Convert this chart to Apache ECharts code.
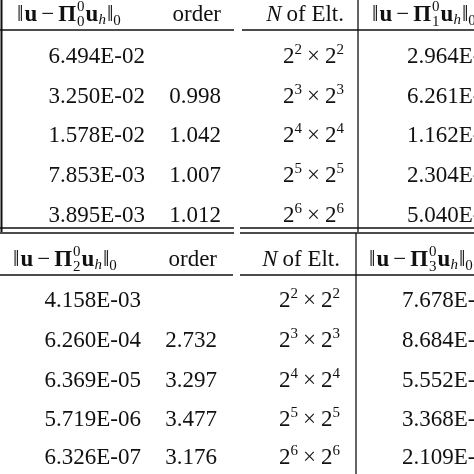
<!DOCTYPE html>
<html><head><meta charset="utf-8">
<script src="https://cdn.jsdelivr.net/npm/echarts@6/dist/echarts.min.js"></script>
<style>html,body{margin:0;padding:0;background:#fff}#c{width:474px;height:474px}</style>
</head><body><div id="c"></div>
<script>
// ---- data ----
const errTop   = ['6.494E-02','3.250E-02','1.578E-02','7.853E-03','3.895E-03'];
const orderTop = ['', '0.998','1.042','1.007','1.012'];
const col4Top  = ['2.964E-03','6.261E-04','1.162E-04','2.304E-05','5.040E-06'];
const errBot   = ['4.158E-03','6.260E-04','6.369E-05','5.719E-06','6.326E-07'];
const orderBot = ['', '2.732','3.297','3.477','3.176'];
const col4Bot  = ['7.678E-04','8.684E-05','5.552E-06','3.368E-07','2.109E-08'];
const meshExp  = [2,3,4,5,6];
const headIdxTop = ['0','1'];
const headIdxBot = ['2','3'];

const FAM = '"Liberation Serif", "DejaVu Serif", serif';
const FS = 23, SS = 15;
const cv = document.createElement('canvas').getContext('2d');
function w(t, size, weight, style){ cv.font = (style||'normal')+' '+(weight||'normal')+' '+size+'px '+FAM; return cv.measureText(t).width; }
const els = [];
function txt(t, x, y, o){ o=o||{};
  els.push({type:'text', x:x, y:y, style:{text:t, fill:'#111', font:(o.style||'normal')+' '+(o.weight||'normal')+' '+(o.size||FS)+'px '+FAM, align:o.align||'left', verticalAlign:'middle'}});
}
function seq(pieces, x, y, alignRight){
  let tot = 0; pieces.forEach(p=>{ if(p.adv!==false) tot += w(p.t,p.s||FS,p.b,p.i)+(p.gap||0); });
  let cx = alignRight ? x - tot : x;
  pieces.forEach(p=>{ txt(p.t, cx, y + (p.dy||0), {size:p.s||FS, weight:p.b, style:p.i});
    if(p.adv!==false) cx += w(p.t,p.s||FS,p.b,p.i)+(p.gap||0); });
}
function head(x, y, k){
  seq([{t:'\u2016',gap:1},{t:'u',b:'bold',gap:4},{t:'\u2212',gap:4},{t:'\u03A0',b:'bold',gap:1},
       {t:'0',s:SS,dy:-8,adv:false},{t:k,s:SS,dy:7,gap:1},{t:'u',b:'bold'},{t:'h',s:SS,i:'italic',dy:5,gap:1},
       {t:'\u2016'},{t:'0',s:SS,dy:6}], x, y, false);
}
function mesh(xr, y, e){
  seq([{t:'2'},{t:String(e),s:SS,dy:-7,gap:5},{t:'\u00D7',gap:5},{t:'2'},{t:String(e),s:SS,dy:-7}], xr, y, true);
}
function table(yh, rows, err, ord, c4, idx, xs){
  head(xs.h1, yh, idx[0]);
  txt('order', xs.o, yh, {align:'right'});
  seq([{t:'N',i:'italic',gap:5},{t:'of Elt.'}], xs.n, yh, true);
  head(xs.h4, yh, idx[1]);
  err.forEach((v,i)=>{
    txt(v, xs.e, rows[i], {align:'right'});
    txt(ord[i], xs.o, rows[i], {align:'right'});
    mesh(xs.n, rows[i], meshExp[i]);
    txt(c4[i], xs.c4, rows[i]);
  });
}
function line(x1,y1,x2,y2,lw){ els.push({type:'line', shape:{x1,y1,x2,y2}, style:{stroke:'#111', lineWidth:lw||1.3}}); }

table(15, [57,97,136,176,216], errTop, orderTop, col4Top, headIdxTop, {h1:17,e:145,o:221,n:344,h4:372,c4:407});
table(260, [301,341,381,420,458], errBot, orderBot, col4Bot, headIdxBot, {h1:13,e:141,o:217,n:340,h4:369,c4:402});

// rules
line(0,30,234,30,1.6); line(242,30,474,30,1.6);
line(1.5,0,1.5,232,2); line(358,0,358,232,1.3);
line(0,228,234,228,1.5); line(240,228,474,228,1.5);
line(0,233,234,233,1.5); line(240,233,474,233,1.5);
line(356,233,356,474,1.3);
line(0,275,233,275,1.6); line(240,275,474,275,1.6);

const chart = echarts.init(document.getElementById('c'));
chart.setOption({animation:false, graphic:{elements:els}});
</script></body></html>
